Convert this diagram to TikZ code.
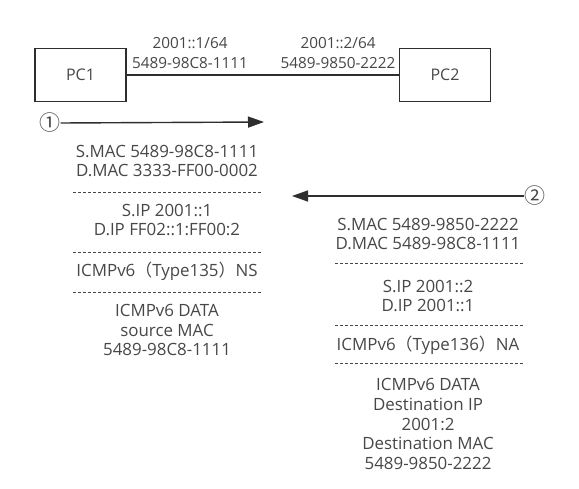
\documentclass[tikz,border=0pt]{standalone}
\usepackage{fontspec}
\setmainfont{Open Sans}
\newfontfamily\cjk{Noto Sans CJK SC}
\usetikzlibrary{arrows.meta}
\definecolor{txtc}{HTML}{474747}
\definecolor{lnc}{HTML}{2E2E2E}
\newcommand{\lp}{{\cjk（}}
\newcommand{\rp}{{\cjk）}}
\begin{document}
\begin{tikzpicture}[x=1pt,y=-1pt,
  txt/.style={text=txtc, font=\fontsize{16.9}{19.8}\selectfont, align=center, inner sep=0pt},
  lbl/.style={text=txtc, font=\fontsize{15.3}{20}\selectfont, align=center, inner sep=0pt},
  box/.style={draw=lnc, line width=1.4pt, minimum width=91pt, minimum height=53pt, text=txtc, font=\fontsize{16}{19}\selectfont},
  sep/.style={draw=txtc, dash pattern=on 3pt off 2pt, line width=0.7pt},
  arr/.style={draw=lnc, line width=1.4pt, -{Triangle[length=16pt,width=11pt]}},
  num/.style={text=txtc, font=\cjk\fontsize{21}{22}\selectfont, inner sep=0pt}]
\useasboundingbox (0,0) rectangle (579,489);
\node[box] (pc1) at (80.5,75) {PC1};
\node[box] (pc2) at (445,75) {PC2};
\draw[draw=lnc, line width=1.4pt] (pc1) -- (pc2);
\node[lbl] (ip1) at (190,53) {2001::1/64\\5489-98C8-1111};
\node[lbl] (ip2) at (338,53) {2001::2/64\\5489-9850-2222};
% arrow 1
\node[num] (n1) at (50,123) {①};
\coordinate (a1) at (264,122);
\draw[arr] (n1.east) -- (a1);
% arrow 2
\node[num] (n2) at (535,196) {②};
\coordinate (a2) at (292,196);
\draw[arr] (n2.west) -- (a2);
% left packet
\node[txt] (l1) at (167,161) {S.MAC 5489-98C8-1111\\D.MAC 3333-FF00-0002};
\coordinate (l1a) at (73,192); \coordinate (l1b) at (262,192);
\draw[sep] (l1a) -- (l1b);
\node[txt] (l2) at (167,220) {S.IP 2001::1\\D.IP FF02::1:FF00:2};
\coordinate (l2a) at (73,252); \coordinate (l2b) at (262,252);
\draw[sep] (l2a) -- (l2b);
\node[txt] (l3) at (167,271) {ICMPv6\lp Type135\rp NS};
\coordinate (l3a) at (73,292); \coordinate (l3b) at (262,292);
\draw[sep] (l3a) -- (l3b);
\node[txt] (l4) at (167,330) {ICMPv6 DATA\\source MAC\\5489-98C8-1111};
% right packet
\node[txt] (r1) at (428,234) {S.MAC 5489-9850-2222\\D.MAC 5489-98C8-1111};
\coordinate (r1a) at (335,263); \coordinate (r1b) at (523,263);
\draw[sep] (r1a) -- (r1b);
\node[txt] (r2) at (428,296) {S.IP 2001::2\\D.IP 2001::1};
\coordinate (r2a) at (335,325); \coordinate (r2b) at (523,325);
\draw[sep] (r2a) -- (r2b);
\node[txt] (r3) at (428,345) {ICMPv6\lp Type136\rp NA};
\coordinate (r3a) at (335,363); \coordinate (r3b) at (523,363);
\draw[sep] (r3a) -- (r3b);
\node[txt] (r4) at (428,424) {ICMPv6 DATA\\Destination IP\\2001:2\\Destination MAC\\5489-9850-2222};
\end{tikzpicture}
\end{document}
